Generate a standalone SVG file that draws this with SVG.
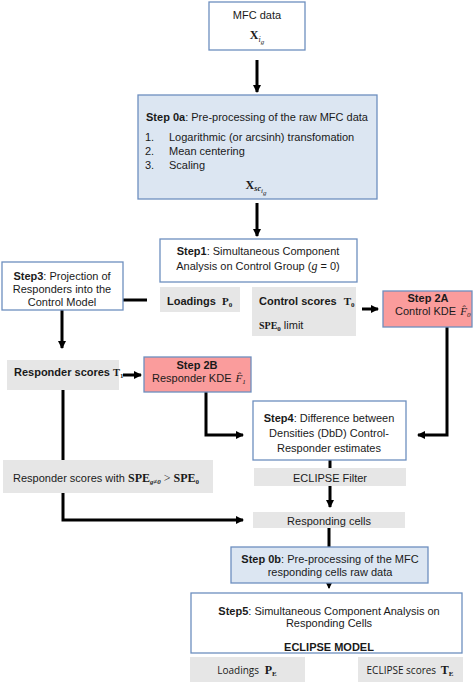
<svg xmlns="http://www.w3.org/2000/svg" width="475" height="685" viewBox="0 0 475 685">
<defs>
<style>
.t{font-family:"Liberation Sans",Arial,sans-serif;font-size:11px;fill:#1a1a1a}
.b{font-weight:bold}
.m{font-family:"Liberation Serif","Times New Roman",serif;fill:#1a1a1a}
.c{font-family:"Open Sans","Liberation Sans",sans-serif;font-size:10px;fill:#1a1a1a}
.wb{fill:#ffffff;stroke:#6d8fbf;stroke-width:1.3}
.bb{fill:#dce6f2;stroke:#6d8fbf;stroke-width:1.3}
.rb{fill:#fa9c9c;stroke:#6d8fbf;stroke-width:1.3}
.gb{fill:#e6e6e6;stroke:none}
.ln{fill:none;stroke:#000;stroke-width:3}
</style>
<marker id="ah" markerWidth="10" markerHeight="10" refX="7" refY="5" orient="auto" markerUnits="userSpaceOnUse">
<path d="M0,1 L8,5 L0,9 Z" fill="#000"/>
</marker>
</defs>
<rect width="475" height="685" fill="#ffffff"/>

<g id="connectors">
<path class="ln" d="M257,60 V92" marker-end="url(#ah)"/>
<path class="ln" d="M257,203 V236" marker-end="url(#ah)"/>
<path class="ln" d="M123,300 H147"/>
<path class="ln" d="M62,310 V348" marker-end="url(#ah)"/>
<path class="ln" d="M362,309 H378" marker-end="url(#ah)"/>
<path class="ln" d="M123,375 H141" marker-end="url(#ah)"/>
<path class="ln" d="M447,327 V435 H418" marker-end="url(#ah)"/>
<path class="ln" d="M206,392 V435 H243" marker-end="url(#ah)"/>
<path class="ln" d="M63,390 V460"/>
<path class="ln" d="M63,493 V520 H243" marker-end="url(#ah)"/>
<path class="ln" d="M330,460 V507" marker-end="url(#ah)"/>
<path class="ln" d="M329,527 V547"/>
<path d="M329,583 V588" stroke="#000" stroke-width="1.5" marker-end="url(#ah)"/>
</g>

<g id="mfc-data">
<rect class="wb" x="209" y="2" width="96" height="48"/>
<text class="t" x="257" y="19" text-anchor="middle">MFC data</text>
<text class="m" x="257" y="39" font-size="12" text-anchor="middle"><tspan font-weight="bold">X</tspan><tspan font-style="italic" font-size="8" dy="3">i</tspan><tspan font-style="italic" font-size="7" dy="2">g</tspan></text>
</g>

<g id="step0a">
<rect class="bb" x="138" y="95" width="239" height="104"/>
<text class="t" x="257" y="121" text-anchor="middle"><tspan class="b">Step 0a</tspan>: Pre-processing of the raw MFC data</text>
<text class="t" x="145" y="141">1.</text>
<text class="t" x="169" y="141">Logarithmic (or arcsinh) transfomation</text>
<text class="t" x="145" y="155">2.</text>
<text class="t" x="169" y="155">Mean centering</text>
<text class="t" x="145" y="169">3.</text>
<text class="t" x="169" y="169">Scaling</text>
<text class="m" x="256" y="189" font-size="12" text-anchor="middle"><tspan font-weight="bold">X</tspan><tspan font-weight="bold" font-style="italic" font-size="8" dy="2">sc</tspan><tspan font-style="italic" font-size="7" dy="2">i</tspan><tspan font-style="italic" font-size="7" dy="2">g</tspan></text>
</g>

<g id="step1">
<rect class="wb" x="160" y="239" width="197" height="43"/>
<text class="t" x="258" y="255" text-anchor="middle"><tspan class="b">Step1</tspan>: Simultaneous Component</text>
<text class="t" x="258" y="270" text-anchor="middle">Analysis on Control Group (<tspan class="m" font-style="italic" font-size="12">g</tspan> = 0)</text>
</g>

<g id="loadings-p0">
<rect class="gb" x="160" y="287" width="80" height="25"/>
<text class="t b" x="167" y="305" font-size="10">Loadings <tspan class="m" font-size="11" dx="3">P</tspan><tspan class="m" font-size="7" dy="2">0</tspan></text>
</g>

<g id="control-scores">
<rect class="gb" x="252" y="287" width="104" height="49"/>
<text class="t b" x="259" y="305" font-size="10">Control scores <tspan class="m" font-size="11" dx="4">T</tspan><tspan class="m" font-size="7" dy="2">0</tspan></text>
<text class="m" x="259" y="329" font-size="10"><tspan font-weight="bold">SPE</tspan><tspan font-weight="bold" font-size="7" dy="2">0</tspan><tspan class="t" font-size="10" dy="-2" dx="3">limit</tspan></text>
</g>

<g id="step2a">
<rect class="rb" x="383" y="291" width="89" height="36"/>
<text class="t b" x="428" y="302" text-anchor="middle">Step 2A</text>
<text class="t" x="395" y="315" font-size="10.5">Control KDE <tspan class="m" font-style="italic" font-size="11" dx="1">F̂</tspan><tspan class="m" font-style="italic" font-size="7" dy="2">0</tspan></text>
</g>

<g id="step3">
<rect class="wb" x="2" y="262" width="121" height="48"/>
<text class="t" x="62" y="280" text-anchor="middle"><tspan class="b">Step3</tspan>: Projection of</text>
<text class="t" x="62" y="293" text-anchor="middle">Responders into the</text>
<text class="t" x="62" y="306" text-anchor="middle">Control Model</text>
</g>

<g id="responder-scores">
<rect class="gb" x="7" y="360" width="112" height="30"/>
<text class="t b" x="14" y="376" font-size="9.5">Responder scores <tspan class="m" font-size="10.5">T</tspan><tspan class="m" font-size="7" dy="2">1</tspan></text>
</g>

<g id="step2b">
<rect class="rb" x="144" y="357" width="107" height="35"/>
<text class="t b" x="197" y="369" text-anchor="middle">Step 2B</text>
<text class="t" x="152" y="382">Responder KDE <tspan class="m" font-style="italic" font-size="11" dx="1">F̂</tspan><tspan class="m" font-style="italic" font-size="7" dy="2">1</tspan></text>
</g>

<g id="responder-spe">
<rect class="gb" x="3" y="460" width="210" height="33"/>
<text class="t" x="13" y="482">Responder scores with <tspan class="m" font-size="12" font-weight="bold">SPE</tspan><tspan class="m" font-weight="bold" font-style="italic" font-size="7" dy="2">g≠0</tspan><tspan class="m" font-size="12" dy="-2"> &gt; </tspan><tspan class="m" font-size="12" font-weight="bold">SPE</tspan><tspan class="m" font-weight="bold" font-size="7" dy="2">0</tspan></text>
</g>

<g id="step4">
<rect class="wb" x="253" y="401" width="153" height="59"/>
<text class="t" x="329" y="422" text-anchor="middle"><tspan class="b">Step4</tspan>: Difference between</text>
<text class="t" x="329" y="437" text-anchor="middle">Densities (DbD) Control-</text>
<text class="t" x="329" y="452" text-anchor="middle">Responder estimates</text>
</g>

<g id="eclipse-filter">
<rect class="gb" x="254" y="468" width="152" height="18"/>
<text class="t" x="330" y="482" text-anchor="middle">ECLIPSE Filter</text>
</g>

<g id="responding-cells">
<rect class="gb" x="253" y="512" width="152" height="16"/>
<text class="t" x="329" y="525" text-anchor="middle">Responding cells</text>
</g>

<g id="step0b">
<rect class="bb" x="231" y="547" width="197" height="36"/>
<text class="t" x="330" y="563" text-anchor="middle"><tspan class="b">Step 0b</tspan>: Pre-processing of the MFC</text>
<text class="t" x="330" y="576" text-anchor="middle">responding cells raw data</text>
</g>

<g id="step5">
<rect class="wb" x="191" y="593" width="271" height="60"/>
<text class="t" x="329" y="615" text-anchor="middle"><tspan class="b">Step5</tspan>: Simultaneous Component Analysis on</text>
<text class="t" x="329" y="627" text-anchor="middle">Responding Cells</text>
<text class="t b" x="329" y="651" text-anchor="middle">ECLIPSE MODEL</text>
</g>

<g id="loadings-pe">
<rect class="gb" x="190" y="657" width="115" height="25"/>
<text class="c" x="247" y="674" text-anchor="middle">Loadings <tspan class="m" font-size="12" font-weight="bold" dx="3">P</tspan><tspan class="m" font-weight="bold" font-size="7" dy="2">E</tspan></text>
</g>

<g id="eclipse-scores">
<rect class="gb" x="358" y="657" width="105" height="25"/>
<text class="c" x="410" y="674" text-anchor="middle">ECLIPSE scores <tspan class="m" font-size="12" font-weight="bold" dx="2">T</tspan><tspan class="m" font-weight="bold" font-size="7" dy="2">E</tspan></text>
</g>
</svg>
